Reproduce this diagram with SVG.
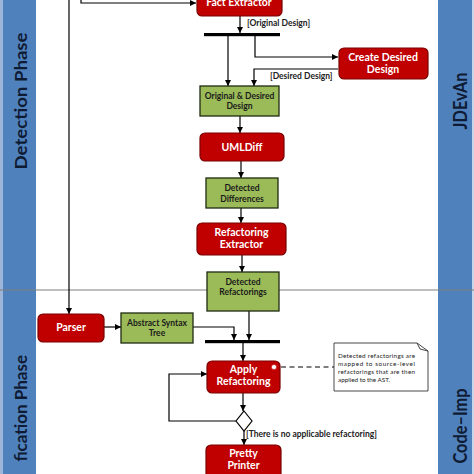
<svg xmlns="http://www.w3.org/2000/svg" width="474" height="474" viewBox="0 0 474 474">
<defs>
<style>
.band{fill:#4f81bd}
.lane{font-family:Lato,"Open Sans",sans-serif;font-weight:bold;fill:#0f1b33}
.red rect{fill:#c00000;stroke:#7a0000;stroke-width:1.2}
.red text{font-family:Lato,"Open Sans",sans-serif;font-weight:bold;font-size:10.5px;fill:#fff;text-anchor:middle}
.grn rect{fill:#9bbb59;stroke:#1e2a10;stroke-width:1.3}
.grn text{font-family:Lato,"Open Sans",sans-serif;font-weight:bold;font-size:8.5px;fill:#1a1a1a;text-anchor:middle}
.lbl{font-family:Lato,"Open Sans",sans-serif;font-weight:bold;font-size:8.5px;fill:#222}
.con path{fill:none;stroke:#000;stroke-width:1.2}
.note{font-family:Lato,"Open Sans",sans-serif;font-size:6.3px;fill:#222}
</style>
<marker id="ah" viewBox="0 0 10 10" refX="10" refY="5" markerWidth="6" markerHeight="6" orient="auto" markerUnits="userSpaceOnUse">
<path d="M0,0 L10,5 L0,10 z" fill="#000"/>
</marker>
</defs>
<rect width="474" height="474" fill="#fff"/>
<rect x="0" y="0" width="3" height="474" fill="#9cb5d9"/>
<rect class="band" x="3" y="0" width="33" height="474"/>
<rect class="band" x="438" y="0" width="34" height="474"/>
<rect x="472" y="0" width="2" height="474" fill="#c9d6ea"/>
<path d="M0,290 H474" stroke="#7f7f7f" stroke-width="1"/>
<text class="lane" font-size="17" transform="translate(27,101) rotate(-90)" text-anchor="middle" textLength="137" lengthAdjust="spacingAndGlyphs">Detection Phase</text>
<text class="lane" font-size="17" transform="translate(27,355) rotate(-90)" text-anchor="end">fication Phase</text>
<text class="lane" font-size="18" transform="translate(467,101) rotate(-90)" text-anchor="middle" textLength="57" lengthAdjust="spacingAndGlyphs">JDEvAn</text>
<text class="lane" font-size="18" transform="translate(467,426) rotate(-90)" text-anchor="middle" textLength="75" lengthAdjust="spacingAndGlyphs">Code–Imp</text>

<g class="con">
<path d="M81,0 V3 H196" marker-end="url(#ah)"/>
<path d="M69,0 V314" marker-end="url(#ah)"/>
<path d="M240,16 V33" marker-end="url(#ah)"/>
<path d="M228,36 V86" marker-end="url(#ah)"/>
<path d="M255,36 V57 H338" marker-end="url(#ah)"/>
<path d="M338,69 H254 V86" marker-end="url(#ah)"/>
<path d="M240,116 V133" marker-end="url(#ah)"/>
<path d="M241,161 V178" marker-end="url(#ah)"/>
<path d="M241,208 V223" marker-end="url(#ah)"/>
<path d="M242,255 V272" marker-end="url(#ah)"/>
<path d="M249,311 V340" marker-end="url(#ah)"/>
<path d="M193,327 H234 V340" marker-end="url(#ah)"/>
<path d="M104,327 H121" marker-end="url(#ah)"/>
<path d="M243,343 V361" marker-end="url(#ah)"/>
<path d="M243,393 V411" marker-end="url(#ah)"/>
<path d="M236,421 H169 V374 H207" marker-end="url(#ah)"/>
<path d="M244,431 V445" marker-end="url(#ah)"/>
<path d="M281,367 H334" stroke-dasharray="5,3.5"/>
<rect x="204" y="33" width="76" height="3.2" fill="#000"/>
<rect x="205" y="340" width="75" height="3.2" fill="#000"/>
<polygon points="244,411 252,421 244,431 236,421" fill="#fff" stroke="#000" stroke-width="1.2"/>
</g>
<text class="lbl" x="247" y="26">[Original Design]</text>
<text class="lbl" x="270" y="79">[Desired Design]</text>
<text class="lbl" x="246" y="437">[There is no applicable refactoring]</text>

<g id="fact-extractor" class="red"><rect x="197" y="-20" width="85" height="36" rx="5"/><text x="239" y="6">Fact Extractor</text></g>
<g id="create-desired" class="red"><rect x="339" y="48" width="89" height="31" rx="5"/><text x="383" y="60.5">Create Desired<tspan x="383" dy="12">Design</tspan></text></g>
<g id="orig-desired" class="grn"><rect x="200" y="86" width="79" height="30"/><text x="239.5" y="99">Original &amp; Desired<tspan x="239.5" dy="10">Design</tspan></text></g>
<g id="umldiff" class="red"><rect x="200" y="133" width="84" height="28" rx="5"/><text x="242" y="150.5">UMLDiff</text></g>
<g id="detected-differences" class="grn"><rect x="206" y="178" width="72" height="30"/><text x="242" y="191">Detected<tspan x="242" dy="11">Differences</tspan></text></g>
<g id="refactoring-extractor" class="red"><rect x="197" y="223" width="89" height="32" rx="5"/><text x="241.5" y="236">Refactoring<tspan x="241.5" dy="12">Extractor</tspan></text></g>
<g id="detected-refactorings" class="grn"><rect x="207" y="272" width="72" height="39"/><text x="243" y="285">Detected<tspan x="243" dy="10">Refactorings</tspan></text></g>
<g id="parser" class="red"><rect x="38" y="314" width="66" height="28" rx="5"/><text x="71" y="331">Parser</text></g>
<g id="ast" class="grn"><rect x="121" y="313" width="72" height="30"/><text x="157" y="326">Abstract Syntax<tspan x="157" dy="10">Tree</tspan></text></g>
<g id="apply-refactoring" class="red"><rect x="207" y="361" width="73" height="32" rx="5"/><text x="243.5" y="373">Apply<tspan x="243.5" dy="12">Refactoring</tspan></text><circle cx="274" cy="367" r="2.6" fill="#fff" stroke="#c00000" stroke-width="0.6"/></g>
<g id="note">
<path d="M334,343 H417 L428,351 V391 H334 Z" fill="#fff" stroke="#333" stroke-width="0.9"/>
<path d="M417,343 L420,349 L428,351" fill="none" stroke="#333" stroke-width="0.9"/>
<text class="note" x="338" y="358" textLength="77" lengthAdjust="spacing">Detected refactorings are</text>
<text class="note" x="338" y="366" textLength="77" lengthAdjust="spacing">mapped to source-level</text>
<text class="note" x="338" y="374" textLength="77" lengthAdjust="spacing">refactorings that are then</text>
<text class="note" x="338" y="382">applied to the AST.</text>
</g>
<g id="pretty-printer" class="red"><rect x="206" y="445" width="75" height="40" rx="5"/><text x="243.5" y="457">Pretty<tspan x="243.5" dy="12">Printer</tspan></text></g>
</svg>
